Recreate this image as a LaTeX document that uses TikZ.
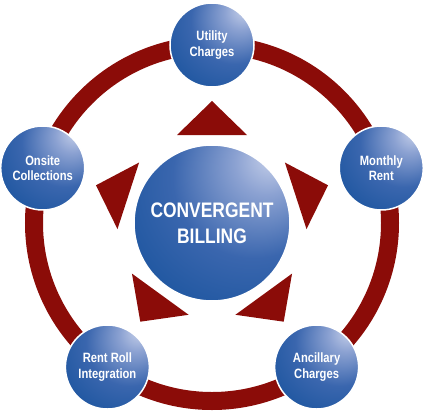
\documentclass[tikz,border=0pt]{standalone}
\usepackage{fontspec}
\setmainfont{Liberation Sans}
\newfontfamily\narrowsans[FakeStretch=0.83]{Liberation Sans}
\usepackage{xcolor}
\usepackage{tikz}
\usetikzlibrary{positioning}

\definecolor{ringred}{RGB}{139,12,8}
\definecolor{ballhi}{RGB}{202,211,235}
\definecolor{balllt}{RGB}{140,162,210}
\definecolor{ballmid}{RGB}{58,102,174}
\definecolor{balldk}{RGB}{26,84,158}
\definecolor{balledge}{RGB}{10,74,150}
\pgfdeclareradialshading{sphereblue}{\pgfpoint{20bp}{22bp}}{%
  color(0bp)=(ballhi); color(10bp)=(balllt); color(26bp)=(ballmid);
  color(44bp)=(balldk); color(78bp)=(balledge)}

\tikzset{
  ball/.style={circle, shading=sphereblue, draw=white, line width=1.5pt,
    text=white, align=center, inner sep=0pt, minimum size=84pt,
    font=\narrowsans\bfseries\fontsize{13.5}{15.5}\selectfont},
  hub/.style={ball, minimum size=156pt,
    font=\narrowsans\bfseries\fontsize{21}{26}\selectfont},
  pointer/.style={fill=ringred}
}

\begin{document}
\begin{tikzpicture}[x=1pt, y=1pt]
    \useasboundingbox (-212,-190) rectangle (213,223);
    % outer ring
    \draw[ringred, line width=18pt] (0,0) circle (178);
    % arrows pointing outward
    \fill[pointer, rotate=0]    (-35,88) -- (35,88) -- (0,122) -- cycle;
    \fill[pointer, rotate=-72]  (-35,88) -- (35,88) -- (0,122) -- cycle;
    \fill[pointer, rotate=-144] (-35,88) -- (35,88) -- (0,122) -- cycle;
    \fill[pointer, rotate=144]  (-35,88) -- (35,88) -- (0,122) -- cycle;
    \fill[pointer, rotate=72]   (-35,88) -- (35,88) -- (0,122) -- cycle;
    % balls
    \node (billing) [hub] at (0,0) {CONVERGENT\\BILLING};
    \node (utility) [ball] at (90:178) {Utility\\Charges};
    \node (monthly) [ball] at (18:178) {Monthly\\Rent};
    \node (ancillary) [ball] at (-54:178) {Ancillary\\Charges};
    \node (rentroll) [ball] at (-126:178) {Rent Roll\\Integration};
    \node (onsite) [ball] at (162:178) {Onsite\\Collections};
  \end{tikzpicture}
\end{document}
